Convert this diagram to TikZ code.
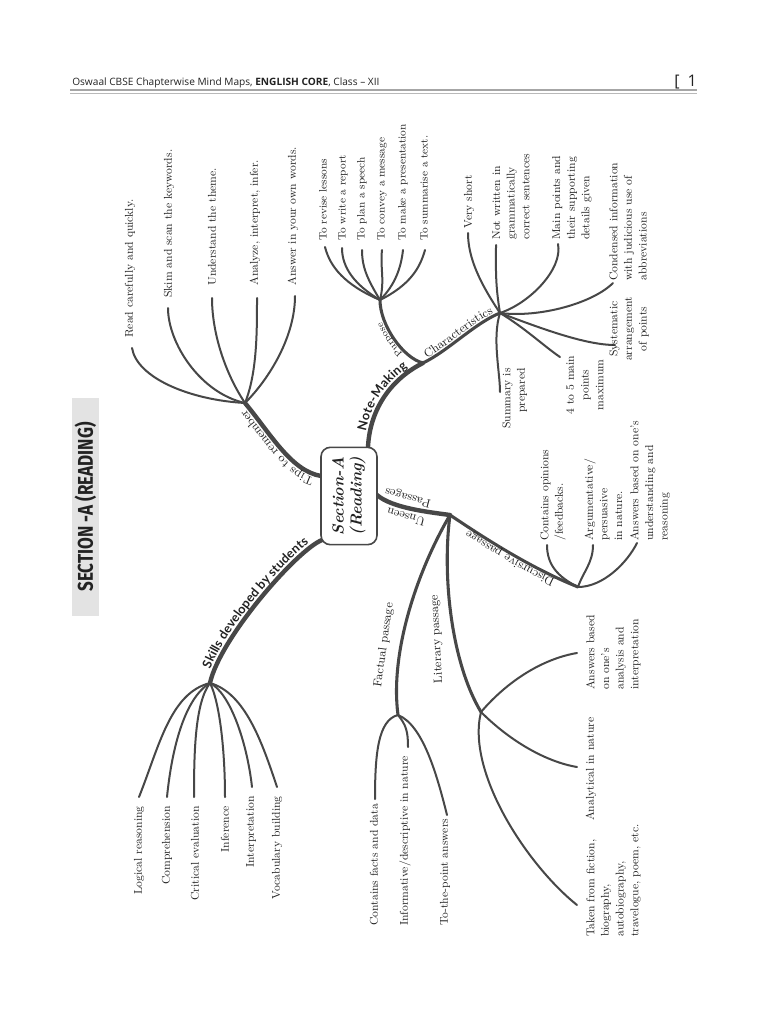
\documentclass[tikz,border=0pt]{standalone}
\usepackage{fontspec}
\usepackage{graphicx}
\usetikzlibrary{decorations.text}

\newfontfamily\hdrfont{Open Sans}
\newfontfamily\titlefont{Fira Sans}
\newfontfamily\brfont{Lato}

\definecolor{linegray}{HTML}{474747}
\definecolor{inkgray}{HTML}{222222}

\newcommand\leaffont{\fontsize{8.5}{11}\selectfont}
\newcommand\purpfont{\fontsize{8}{10}\selectfont}
\newcommand\lblfont{\fontsize{9}{11}\selectfont\color{inkgray}}
\newcommand\boldlbl{\brfont\bfseries\fontsize{9.5}{11}\selectfont\color{inkgray}}

\tikzset{
  branch/.style={draw=linegray, line width=3.3pt, line cap=round},
  midbranch/.style={draw=linegray, line width=2.3pt, line cap=round},
  twig/.style={draw=linegray, line width=1.5pt, line cap=round},
  leaf/.style={rotate=90, inner sep=0pt, font=\leaffont, text=inkgray, align=left},
}

\begin{document}
\begin{tikzpicture}[x=0.75pt, y=-0.75pt]
  \useasboundingbox (0,0) rectangle (768,1024);
  \fill[white] (0,0) rectangle (768,1024);

  % Header line
  \node[anchor=west, inner sep=0pt, text=inkgray,
        font=\hdrfont\fontsize{7.6}{9}\selectfont] (hdr) at (72,83)
        {Oswaal CBSE Chapterwise Mind Maps, \textbf{ENGLISH CORE}, Class – XII};
  \node[anchor=east, inner sep=0pt, text=inkgray,
        font=\hdrfont\fontsize{12}{14}\selectfont] (pageno) at (697,82) {[\enspace1};
  \draw[gray!70, line width=1.6pt] (70,90) -- (697,90);
  \draw[gray!55, line width=0.6pt] (70,93) -- (697,93);

  % Section title strip
  \node[rotate=90, fill=gray!22, minimum width=163pt, minimum height=20pt,
        inner sep=0pt, text=inkgray,
        font=\titlefont\bfseries\fontsize{16}{18}\selectfont] (sectitle) at (85.5,507)
        {\scalebox{0.8}[1]{SECTION -A (READING)}};

  % Hubs and roots
  \coordinate (tipsroot)   at (321,476);
  \coordinate (noteroot)   at (368,447);
  \coordinate (unseenroot) at (377,495);
  \coordinate (skillsroot) at (322,540);
  \coordinate (tipshub)    at (245,403);
  \coordinate (notejct)    at (423,363);
  \coordinate (purphub)    at (380,300);
  \coordinate (charhub)    at (500,313);
  \coordinate (unseenhub)  at (450,515);
  \coordinate (dischub)    at (578,587);
  \coordinate (facthub)    at (398,715);
  \coordinate (lithub)     at (481,712);
  \coordinate (skillshub)  at (210,683);

  % Main branches
  \draw[branch, postaction={decorate, decoration={text along path, text align=center,
        raise=3pt, text={|\lblfont|Tips to remember}}}]
        (tipsroot) .. controls +(-30,-5) and +(25,30) .. (tipshub);
  \draw[branch, postaction={decorate, decoration={text along path, text align=center,
        raise=3pt, text={|\boldlbl|Note-Making}}}]
        (noteroot) .. controls +(2,-40) and +(-30,15) .. (notejct);
  \draw[branch] (unseenroot) .. controls +(15,13) and +(-22,-3) .. (unseenhub);
  \draw[branch, postaction={decorate, decoration={text along path, text align=center,
        raise=3pt, text={|\boldlbl|Skills developed by students}}}]
        (skillshub) .. controls +(10,-45) and +(-25,10) .. (skillsroot);

  % Central box
  \node[rotate=90, draw=linegray, line width=1.2pt, rounded corners=7pt, fill=white,
        minimum width=73pt, minimum height=42pt, align=center, text=inkgray,
        font=\bfseries\itshape\fontsize{12}{13.5}\selectfont] (sec) at (349,496)
        {Section-A\\(Reading)};

  % Unseen passages labels
  \node[rotate=165, inner sep=0pt, font=\lblfont] (passlbl) at (408,497) {Passages};
  \node[rotate=165, inner sep=0pt, font=\lblfont] (unslbl) at (406,517) {Unseen};

  % Note-Making sub-branches
  \draw[midbranch, postaction={decorate, decoration={text along path, text align=center,
        raise=2pt, text={|\fontsize{7}{8}\selectfont\color{inkgray}|Purpose}}}]
        (notejct) .. controls +(-20,-5) and +(0,25) .. (purphub);
  \draw[midbranch, postaction={decorate, decoration={text along path, text align=center,
        raise=2pt, text={|\lblfont|Characteristics}}}]
        (notejct) .. controls +(25,-12) and +(-25,10) .. (charhub);

  % Unseen passages sub-branches
  \draw[midbranch, postaction={decorate, decoration={text along path, text align=center,
        raise=2pt, text={|\lblfont|Discursive passage}}}]
        (dischub) .. controls +(-50,-20) and +(30,20) .. (unseenhub);
  \draw[midbranch] (unseenhub) .. controls +(-35,60) and +(-8,-60) .. (facthub);
  \draw[midbranch] (unseenhub) .. controls +(-8,60) and +(-30,-50) .. (lithub);
  \node[rotate=82, inner sep=0pt, font=\lblfont] (factlbl) at (384,645) {Factual passage};
  \node[rotate=93, inner sep=0pt, font=\lblfont] (litlbl) at (437,639) {Literary passage};

  % Tips to remember
  \coordinate (tipsAend) at (132,348);
  \coordinate (tipsBend) at (168,308);
  \coordinate (tipsCend) at (212,298);
  \coordinate (tipsDend) at (257,298);
  \coordinate (tipsEend) at (295,296);
  \draw[twig] (tipshub) .. controls +(-55,-3) and +(5,30) .. (tipsAend);
  \draw[twig] (tipshub) .. controls +(-45,-10) and +(0,35) .. (tipsBend);
  \draw[twig] (tipshub) .. controls +(-20,-30) and +(0,35) .. (tipsCend);
  \draw[twig] (tipshub) .. controls +(12,-30) and +(0,35) .. (tipsDend);
  \draw[twig] (tipshub) .. controls +(25,-25) and +(0,40) .. (tipsEend);
  \node[leaf, anchor=west] (tipsA) at (130,338) {Read carefully and quickly.};
  \node[leaf, anchor=west] (tipsB) at (169,298) {Skim and scan the keywords.};
  \node[leaf, anchor=west] (tipsC) at (212,286) {Understand the theme.};
  \node[leaf, anchor=west] (tipsD) at (255,286) {Analyze, interpret, infer.};
  \node[leaf, anchor=west] (tipsE) at (293,286) {Answer in your own words.};

  % Purpose
  \coordinate (purAend) at (325,247);
  \coordinate (purBend) at (342,248);
  \coordinate (purCend) at (362,250);
  \coordinate (purDend) at (382,250);
  \coordinate (purEend) at (403,250);
  \coordinate (purFend) at (425,250);
  \draw[twig] (purphub) .. controls +(-35,-15) and +(5,20) .. (purAend);
  \draw[twig] (purphub) .. controls +(-25,-15) and +(0,20) .. (purBend);
  \draw[twig] (purphub) .. controls +(-12,-20) and +(0,18) .. (purCend);
  \draw[twig] (purphub) .. controls +(5,-20) and +(-2,18) .. (purDend);
  \draw[twig] (purphub) .. controls +(15,-15) and +(-2,18) .. (purEend);
  \draw[twig] (purphub) .. controls +(30,-15) and +(-5,18) .. (purFend);
  \node[leaf, anchor=west, font=\purpfont] (purA) at (323,241) {To revise lessons};
  \node[leaf, anchor=west, font=\purpfont] (purB) at (343,241) {To write a report};
  \node[leaf, anchor=west, font=\purpfont] (purC) at (362,241) {To plan a speech};
  \node[leaf, anchor=west, font=\purpfont] (purD) at (382,241) {To convey a message};
  \node[leaf, anchor=west, font=\purpfont] (purE) at (403,241) {To make a presentation};
  \node[leaf, anchor=west, font=\purpfont] (purF) at (424,241) {To summarise a text.};

  % Characteristics
  \coordinate (chAend) at (468,233);
  \coordinate (chBend) at (496,245);
  \coordinate (chCend) at (558,244);
  \coordinate (chDend) at (613,283);
  \coordinate (chEend) at (615,345);
  \coordinate (chFend) at (560,357);
  \coordinate (chGend) at (500,392);
  \draw[twig] (charhub) .. controls +(-20,-30) and +(0,25) .. (chAend);
  \draw[twig] (charhub) .. controls +(-5,-30) and +(0,22) .. (chBend);
  \draw[twig] (charhub) .. controls +(30,-10) and +(5,25) .. (chCend);
  \draw[twig] (charhub) .. controls +(40,5) and +(-20,20) .. (chDend);
  \draw[twig] (charhub) .. controls +(40,15) and +(-30,0) .. (chEend);
  \draw[twig] (charhub) .. controls +(25,15) and +(-15,-10) .. (chFend);
  \draw[twig] (charhub) .. controls +(-8,25) and +(0,-20) .. (chGend);
  \node[leaf, anchor=west] (chA) at (469,229) {Very short};
  \node[leaf, anchor=north west] (chB) at (492,240)
        {Not written in\\grammatically\\correct sentences};
  \node[leaf, anchor=north west] (chC) at (552,240)
        {Main points and\\their supporting\\details given};
  \node[leaf, anchor=north west] (chD) at (609,281)
        {Condensed information\\with judicious use of\\abbreviations};
  \node[leaf, anchor=north, align=center] (chE) at (609,329)
        {Systematic\\arrangement\\of points};
  \node[leaf, anchor=north, align=center] (chF) at (566,385)
        {4 to 5 main\\points\\maximum};
  \node[leaf, anchor=north east, align=right] (chG) at (502,368)
        {Summary is\\prepared};

  % Discursive passage
  \coordinate (disAend) at (547,545);
  \coordinate (disBend) at (593,545);
  \coordinate (disCend) at (637,543);
  \draw[twig] (dischub) .. controls +(-20,-10) and +(0,20) .. (disAend);
  \draw[twig] (dischub) .. controls +(5,-15) and +(0,18) .. (disBend);
  \draw[twig] (dischub) .. controls +(25,0) and +(-10,20) .. (disCend);
  \node[leaf, anchor=north west] (disA) at (540,541) {Contains opinions\\/feedbacks.};
  \node[leaf, anchor=north west] (disB) at (584,541) {Argumentative/\\persuasive\\in nature.};
  \node[leaf, anchor=north west] (disC) at (630,541)
        {Answers based on one's\\understanding and\\reasoning};

  % Factual passage
  \coordinate (factAend) at (375,799);
  \coordinate (factBend) at (408,747);
  \coordinate (factCend) at (447,815);
  \draw[twig] (facthub) .. controls +(-20,5) and +(0,-45) .. (factAend);
  \draw[twig] (facthub) .. controls +(8,10) and +(0,-16) .. (factBend);
  \draw[twig] (facthub) .. controls +(25,10) and +(-10,-40) .. (factCend);
  \node[leaf, anchor=west] (factA) at (374,926) {Contains facts and data};
  \node[leaf, anchor=west] (factB) at (405,926) {Informative/descriptive in nature};
  \node[leaf, anchor=west] (factC) at (445,926) {To-the-point answers};

  % Literary passage
  \coordinate (litAend) at (577,653);
  \coordinate (litBend) at (577,767);
  \coordinate (litCend) at (577,905);
  \draw[twig] (lithub) .. controls +(30,-35) and +(-30,5) .. (litAend);
  \draw[twig] (lithub) .. controls +(30,30) and +(-30,-5) .. (litBend);
  \draw[twig] (lithub) .. controls +(-15,60) and +(-50,-40) .. (litCend);
  \node[leaf, anchor=north west] (litA) at (586,690)
        {Answers based\\on one's\\analysis and\\interpretation};
  \node[leaf, anchor=west] (litB) at (591,821) {Analytical in nature};
  \node[leaf, anchor=north west] (litC) at (586,937)
        {Taken from fiction,\\biography,\\autobiography,\\travelogue, poem, etc.};

  % Skills developed by students
  \coordinate (skAend) at (139,797);
  \coordinate (skBend) at (167,797);
  \coordinate (skCend) at (194,797);
  \coordinate (skDend) at (225,797);
  \coordinate (skEend) at (252,787);
  \coordinate (skFend) at (277,787);
  \draw[twig] (skillshub) .. controls +(-40,10) and +(20,-50) .. (skAend);
  \draw[twig] (skillshub) .. controls +(-25,15) and +(5,-50) .. (skBend);
  \draw[twig] (skillshub) .. controls +(-15,20) and +(0,-45) .. (skCend);
  \draw[twig] (skillshub) .. controls +(10,20) and +(0,-45) .. (skDend);
  \draw[twig] (skillshub) .. controls +(20,10) and +(-5,-45) .. (skEend);
  \draw[twig] (skillshub) .. controls +(35,10) and +(-15,-45) .. (skFend);
  \node[leaf, anchor=east] (skA) at (139,806) {Logical reasoning};
  \node[leaf, anchor=east] (skB) at (167,806) {Comprehension};
  \node[leaf, anchor=east] (skC) at (195,806) {Critical evaluation};
  \node[leaf, anchor=east] (skD) at (225,806) {Inference};
  \node[leaf, anchor=east] (skE) at (251,796) {Interpretation};
  \node[leaf, anchor=east] (skF) at (277,796) {Vocabulary building};
\end{tikzpicture}
\end{document}
